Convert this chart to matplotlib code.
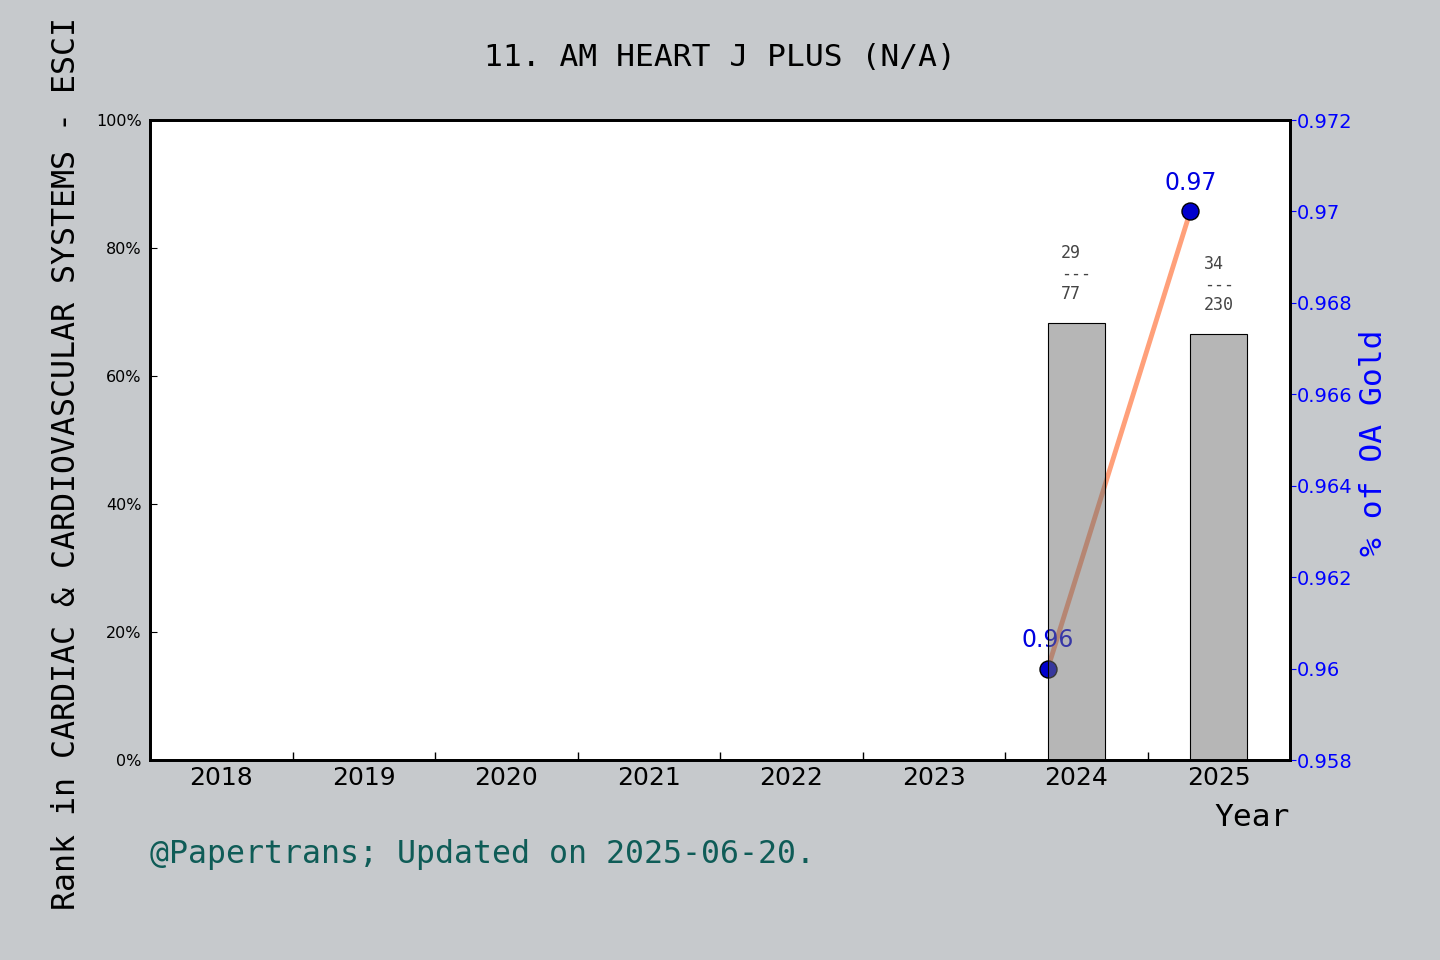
import matplotlib
matplotlib.use("Agg")
import matplotlib.pyplot as plt
from matplotlib.ticker import FixedLocator, FuncFormatter

# data
years = [2018, 2019, 2020, 2021, 2022, 2023, 2024, 2025]
bar_years = [2024, 2025]
bar_pct = [68.3, 66.6]
rank_labels = ["29\n---\n77", "34\n---\n230"]
oa_years = [2024, 2025]
oa_gold = [0.96, 0.97]
oa_labels = ["0.96", "0.97"]

title = "11. AM HEART J PLUS (N/A)"
left_label = "Rank in CARDIAC & CARDIOVASCULAR SYSTEMS - ESCI"
right_label = "% of OA Gold"
footer = "@Papertrans; Updated on 2025-06-20."

BG = "#c6c9cc"
MONO = ["DejaVu Sans Mono"]

fig = plt.figure(figsize=(14.4, 9.6), dpi=100, facecolor=BG)
ax = fig.add_axes([150/1440, 200/960, 1140/1440, 640/960])
axr = ax.twinx()

# bars go on top of the line, like in the original
ax.set_zorder(axr.get_zorder() + 1)
ax.patch.set_visible(False)
axr.patch.set_visible(True)
axr.patch.set_facecolor("white")

bars = ax.bar(bar_years, bar_pct, width=0.4, facecolor=(0.43, 0.43, 0.43, 0.5),
              edgecolor="black", linewidth=0.8)
for b, lab in zip(bars, rank_labels):
    ax.annotate(lab, (b.get_x() + b.get_width() / 2, b.get_height()),
                xytext=(0, 14), textcoords="offset points",
                ha="center", va="bottom", multialignment="left",
                fontsize=12, color="#444444", linespacing=1.2, family=MONO)

ax.set_xlim(2017.5, 2025.5)
ax.set_ylim(0, 100)
ax.xaxis.set_major_locator(FixedLocator(years))
ax.xaxis.set_minor_locator(FixedLocator([y + 0.5 for y in years[:-1]]))
ax.tick_params(axis="x", which="major", length=0, labelsize=18, pad=4)
ax.tick_params(axis="x", which="minor", direction="in", length=6, width=1)
ax.set_yticks([0, 20, 40, 60, 80, 100])
ax.yaxis.set_major_formatter(FuncFormatter(lambda v, p: f"{v:.0f}%"))
ax.tick_params(axis="y", direction="in", length=5, labelsize=11.5, pad=6)

xs = [y - 0.2 for y in oa_years]
axr.plot(xs, oa_gold, color="#ffa07a", linewidth=3.5, zorder=2)
axr.scatter(xs, oa_gold, s=150, color="#0000cd", edgecolor="black",
            linewidth=1, zorder=3)
for x, v, lab in zip(xs, oa_gold, oa_labels):
    axr.annotate(lab, (x, v), xytext=(0, 12), textcoords="offset points",
                 ha="center", va="bottom", fontsize=17, color="#0000e0")

axr.set_ylim(0.958, 0.972)
axr.set_yticks([0.958, 0.96, 0.962, 0.964, 0.966, 0.968, 0.97, 0.972])
axr.yaxis.set_major_formatter(FuncFormatter(lambda v, p: f"{v:g}"))
axr.tick_params(axis="y", direction="out", length=4, labelsize=14,
                colors="blue", pad=1)

for a in (ax, axr):
    for sp in a.spines.values():
        sp.set_linewidth(2)
        sp.set_color("black")

fig.text(720/1440, 1 - 57/960, title, fontsize=22.5, family=MONO,
         ha="center", va="center")
fig.text(67/1440, 1 - 463/960, left_label, fontsize=22.8, family=MONO,
         rotation=90, ha="center", va="center")
fig.text(1373/1440, 1 - 443/960, right_label, fontsize=22.5, family=MONO,
         rotation=90, ha="center", va="center", color="blue")
fig.text(1290/1440, 1 - 817/960, "Year", fontsize=22.5, family=MONO,
         ha="right", va="center")
fig.text(150/1440, 1 - 855/960, footer, fontsize=22.8, family=MONO,
         ha="left", va="center", color="#0f5c57")

fig.savefig("out.png", dpi=100, facecolor=BG)
